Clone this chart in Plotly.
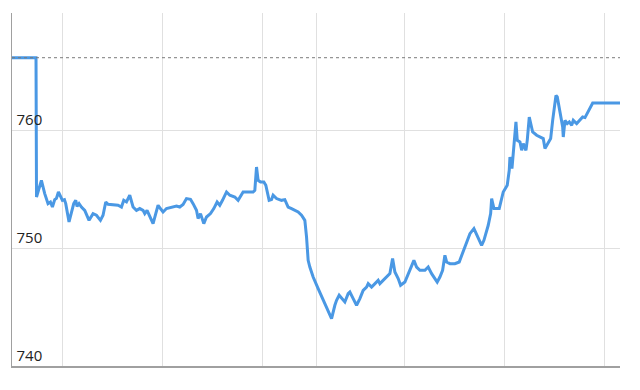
import plotly.graph_objects as go

# x positions (time units along the session) and price values
t = [12.3, 36.3, 36.8, 41.7, 45.0, 48.3, 50.7, 52.7, 55.0, 56.7, 58.7, 60.7, 62.7, 64.7, 66.0,
     69.3, 71.7, 74.0, 76.0, 77.3, 79.3, 81.7, 85.0, 89.3, 93.3, 96.7, 100.7, 103.3, 106.0,
     108.3, 118.3, 121.7, 124.0, 126.7, 130.0, 133.3, 136.7, 140.0, 143.3, 145.0, 147.3,
     150.0, 153.3, 156.0, 158.3, 160.7, 163.3, 166.7, 171.7, 176.7, 180.0, 183.3, 186.7,
     190.7, 193.3, 196.7, 198.3, 200.7, 204.0, 206.7, 210.7, 214.0, 217.3, 220.0, 222.7,
     226.7, 230.0, 235.0, 238.3, 241.7, 243.3, 253.3, 255.0, 256.7, 258.3, 260.7, 264.0,
     266.0, 269.3, 271.7, 273.3, 276.7, 281.7, 285.0, 288.3, 291.7, 295.0, 298.3, 301.7,
     305.0, 306.7, 308.3, 310.0, 313.3, 318.3, 325.0, 330.0, 331.7, 335.0, 336.7, 339.3,
     341.7, 345.0, 348.3, 350.0, 353.3, 356.7, 360.0, 363.3, 366.7, 368.3, 371.7, 375.0,
     378.3, 380.0, 383.3, 386.7, 390.0, 392.7, 395.0, 398.3, 400.7, 405.0, 408.3, 411.7,
     414.0, 416.7, 420.0, 425.0, 428.3, 431.7, 435.0, 437.3, 440.0, 442.7, 445.0, 446.7,
     450.0, 455.0, 459.3, 465.0, 470.0, 474.0, 477.3, 481.7, 484.0, 488.3, 490.7, 491.7,
     494.0, 499.3, 503.3, 507.3, 509.3, 510.0, 512.0, 514.0, 516.0, 517.3, 520.0, 521.7,
     523.3, 526.0, 527.3, 529.3, 532.7, 536.7, 540.0, 543.3, 545.0, 548.3, 550.7, 552.7,
     556.0, 557.3, 560.0, 562.7, 563.3, 565.0, 567.3, 569.3, 571.7, 573.3, 576.7, 580.0,
     582.7, 585.0, 588.3, 592.7, 596.7, 620.0]
price = [766.20, 766.20, 754.36, 755.78, 754.65, 753.80, 753.94, 753.51, 754.14, 754.25,
         754.79, 754.42, 754.08, 754.14, 753.80, 752.24, 753.09, 753.80, 754.08, 753.57,
         753.80, 753.51, 753.23, 752.38, 752.95, 752.81, 752.38, 752.81, 753.94, 753.74,
         753.66, 753.51, 754.08, 753.94, 754.51, 753.51, 753.23, 753.38, 753.23, 752.95,
         753.23, 752.66, 752.10, 752.95, 753.66, 753.38, 753.09, 753.38, 753.51, 753.60,
         753.51, 753.72, 754.23, 754.17, 753.80, 753.23, 752.53, 752.95, 752.10, 752.66,
         752.95, 753.38, 753.94, 753.66, 754.08, 754.79, 754.51, 754.36, 754.08, 754.65,
         754.79, 754.79, 754.93, 756.91, 755.78, 755.64, 755.64, 755.36, 754.08, 754.14,
         754.51, 754.23, 754.08, 754.14, 753.51, 753.38, 753.23, 753.09, 752.81, 752.38,
         750.96, 748.98, 748.41, 747.56, 746.58, 745.30, 744.31, 744.03, 745.16, 745.58,
         746.01, 745.73, 745.44, 746.15, 746.29, 745.73, 745.16, 745.73, 746.43, 746.71,
         747.00, 746.71, 747.00, 747.28, 747.00, 747.28, 747.56, 747.85, 749.13, 747.99,
         747.43, 746.86, 747.14, 747.85, 748.41, 748.98, 748.41, 748.13, 748.13, 748.41,
         747.85, 747.43, 747.14, 747.56, 748.13, 749.41, 748.84, 748.70, 748.70, 748.84,
         750.11, 751.25, 751.68, 751.11, 750.26, 750.68, 751.96, 752.95, 754.23, 753.38,
         753.38, 754.79, 755.36, 756.63, 757.76, 756.78, 759.18, 760.74, 759.18, 759.04,
         758.33, 758.90, 758.33, 759.18, 761.16, 759.89, 759.61, 759.46, 759.33, 758.48,
         759.04, 759.33, 760.88, 763.00, 762.86, 761.73, 760.31, 759.46, 760.88, 760.60,
         760.74, 760.46, 760.88, 760.60, 760.94, 761.16, 761.11, 761.59, 762.35, 762.35,
         762.35]

previous_close = 766.2
x_grid = [62.7, 162.3, 262.7, 316.3, 404.7, 504.7, 604.3]
y_ticks = [740, 750, 760, 770]
y_labels = ["740", "750", "760", ""]

fig = go.Figure()
fig.add_trace(go.Scatter(x=t, y=price, mode="lines",
                         line=dict(color="rgb(74,152,228)", width=3),
                         hoverinfo="skip", showlegend=False))
fig.add_shape(type="line", xref="paper", yref="y", x0=0, x1=1,
              y0=previous_close, y1=previous_close,
              line=dict(color="#7a7a7a", width=1, dash="dot"))

fig.update_layout(
    width=640, height=390,
    margin=dict(l=12, r=20, t=13, b=24),
    paper_bgcolor="white", plot_bgcolor="white",
    font=dict(family="Open Sans, DejaVu Sans, sans-serif", color="#222222"),
)
fig.update_xaxes(range=[12.3, 620], tickmode="array", tickvals=x_grid,
                 showticklabels=False, ticks="", showgrid=True,
                 gridcolor="#e0e0e0", gridwidth=1, zeroline=False,
                 showline=True, linecolor="#a0a0a0", linewidth=2)
fig.update_yaxes(range=[740, 770], tickmode="array", tickvals=y_ticks,
                 ticktext=y_labels, ticklabelposition="inside top",
                 ticklabelstandoff=4,
                 tickfont=dict(size=15, color="#222222"), ticks="",
                 showgrid=True, gridcolor="#e0e0e0", gridwidth=1,
                 zeroline=False, showline=True, linecolor="#a0a0a0", linewidth=1)

fig.write_html("out.html")
